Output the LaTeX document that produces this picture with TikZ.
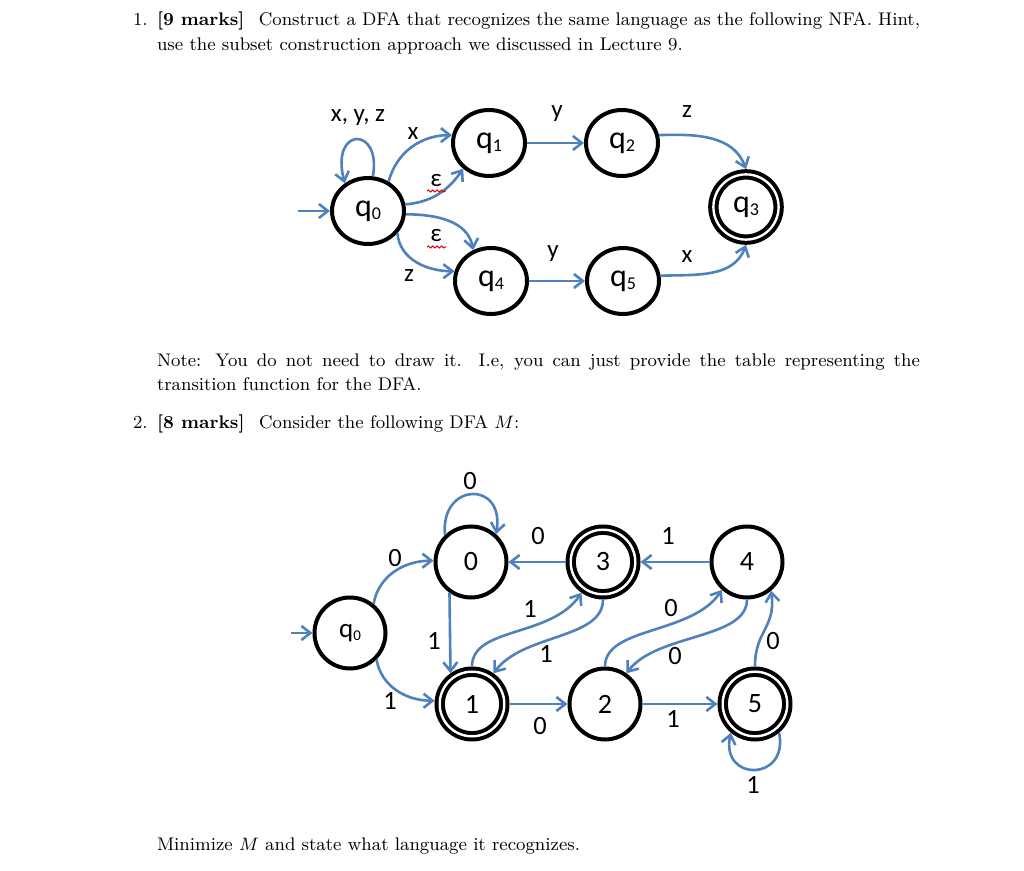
\documentclass[tikz,border=0pt]{standalone}
\usepackage{fontspec}
\newfontfamily\dia{Carlito}
\usetikzlibrary{arrows.meta,shapes.geometric,decorations.pathmorphing}
\definecolor{eblue}{RGB}{79,129,189}
\newcommand\qsub[3]{q\raisebox{-#3}{\fontsize{#2}{#2}\selectfont #1}}
\begin{document}
\begin{tikzpicture}[x=0.5pt,y=-0.5pt,
 txt/.style={anchor=base west,inner sep=0pt,outer sep=0pt,font=\fontsize{9.15pt}{12pt}\selectfont},
 nst/.style={ellipse,draw=black,line width=2pt,minimum width=36pt,minimum height=33pt,inner sep=0pt,outer sep=1pt,font=\dia\fontsize{16pt}{16pt}\selectfont},
 nacc/.style={circle,draw=black,line width=2pt,double=white,double distance=1.2pt,minimum size=32.6pt,inner sep=0pt,outer sep=2.6pt,font=\dia\fontsize{16pt}{16pt}\selectfont},
 dst/.style={circle,draw=black,line width=2pt,minimum size=35.5pt,inner sep=0pt,outer sep=1pt,font=\dia\fontsize{14pt}{14pt}\selectfont},
 dacc/.style={dst,double=white,double distance=1.2pt,minimum size=32.3pt,outer sep=2.6pt},
 arr/.style={draw=eblue,line width=1.3pt,-{Straight Barb[length=4.5pt,width=7pt]}},
 nlab/.style={anchor=base,inner sep=0pt,font=\dia\fontsize{12.5pt}{12.5pt}\selectfont},
 dlab/.style={anchor=base,inner sep=0pt,font=\dia\fontsize{13.2pt}{13.2pt}\selectfont},
 squig/.style={draw=red!85!black,line width=0.5pt,decorate,decoration={snake,amplitude=0.5pt,segment length=2.2pt}},
]
\useasboundingbox[fill=white] (0,0) rectangle (1024,871);

% ---------- text ----------
\node[txt] (t1a) at (133,25.5) {1.};
\node[txt] (t1b) at (157,25.5) {\makebox[381.5pt][s]{\textbf{[9 marks]}\hspace{0.45em} Construct a DFA that recognizes the same language as the following NFA. Hint,}};
\node[txt] (t1c) at (157,50.5) {use the subset construction approach we discussed in Lecture 9.};
\node[txt] (n1) at (157,367) {\makebox[381.5pt][s]{Note: You do not need to draw it. I.e, you can just provide the table representing the}};
\node[txt] (n2) at (157,391) {transition function for the DFA.};
\node[txt] (t2a) at (133,429) {2.};
\node[txt] (t2b) at (157,429) {\textbf{[8 marks]}\hspace{0.45em} Consider the following DFA $M$:};
\node[txt] (t3) at (157,850) {Minimize $M$ and state what language it recognizes.};

% ---------- NFA ----------
\node[nst] (q0) at (368,211) {\qsub{0}{9pt}{1.8pt}};
\node[nst] (q1) at (489,143) {\qsub{1}{9pt}{1.8pt}};
\node[nst] (q2) at (622,143) {\qsub{2}{9pt}{1.8pt}};
\node[nacc] (q3) at (746,207) {\qsub{3}{9pt}{1.8pt}};
\node[nst] (q4) at (491,281) {\qsub{4}{9pt}{1.8pt}};
\node[nst] (q5) at (623,281) {\qsub{5}{9pt}{1.8pt}};

\coordinate (sn) at (298,211);
\draw[arr] (sn) -- (q0.west);
\draw[arr] (q0.82) .. controls (382,126) and (330,126) .. (q0.130);
\draw[arr] (q0.55) to[out=75,in=180] (q1.168);
\draw[arr] (q0.10) to[out=5,in=235] (q1.225);
\draw[arr] (q0.-5) to[out=0,in=100] (q4.120);
\draw[arr] (q0.-37) to[out=-85,in=180] (q4.165);
\draw[arr] (q1.east) -- (q2.west);
\draw[arr] (q2.12) to[out=2,in=110] (q3.north);
\draw[arr] (q4.east) -- (q5.west);
\draw[arr] (q5.8) to[out=2,in=-110] (q3.south);

\node[nlab] (lxyz) at (358,122) {x, y, z};
\node[nlab] (lx1) at (413,140) {x};
\node[nlab] (le1) at (436,187) {ε};
\node[nlab] (le2) at (436,242) {ε};
\node[nlab] (lz1) at (409,282) {z};
\node[nlab] (ly1) at (557,118) {y};
\node[nlab] (lz2) at (687,118) {z};
\node[nlab] (ly2) at (553,258) {y};
\node[nlab] (lx2) at (687,263) {x};
\draw[squig] (427,191) -- (446,191);
\draw[squig] (427,247) -- (446,247);

% ---------- DFA ----------
\node[dst,font=\dia\fontsize{13.5pt}{13.5pt}\selectfont] (Q0) at (350,633) {\qsub{0}{7.5pt}{1.4pt}};
\node[dst] (S0) at (471,562) {0};
\node[dacc] (S3) at (603,562) {3};
\node[dst] (S4) at (747,562) {4};
\node[dacc] (S1) at (472,704) {1};
\node[dst] (S2) at (605,704) {2};
\node[dacc] (S5) at (755,704) {5};

\coordinate (sd) at (291,633);
\draw[arr] (sd) -- (Q0.west);
\draw[arr] (Q0.51) to[out=80,in=180] (S0.178);
\draw[arr] (Q0.-45) to[out=-80,in=180] (S1.175);
\draw[arr] (S0.134) .. controls (440,482) and (505,480) .. (S0.48);
\draw[arr] (S0.235) -- (S1.125);
\draw[arr] (S3.west) -- (S0.east);
\draw[arr] (S4.west) -- (S3.east);
\draw[arr] (S1.90) .. controls +(0,-40) and +(-30,45) .. (S3.235);
\draw[arr] (S3.270) .. controls +(0,40) and +(30,-40) .. (S1.55);
\draw[arr] (S2.90) .. controls +(0,-40) and +(-30,45) .. (S4.228);
\draw[arr] (S4.270) .. controls +(0,40) and +(30,-40) .. (S2.55);
\draw[arr] (S1.east) -- (S2.west);
\draw[arr] (S2.east) -- (S5.west);
\draw[arr] (S5.90) .. controls (755,630) and (776,628) .. (S4.-50);
\draw[arr] (S5.-50) .. controls (789,782) and (720,782) .. (S5.230);

\node[dlab] (d1) at (470,490) {0};
\node[dlab] (d2) at (395,567) {0};
\node[dlab] (d3) at (538,545) {0};
\node[dlab] (d4) at (668,545) {1};
\node[dlab] (d5) at (530,618) {1};
\node[dlab] (d6) at (434,650) {1};
\node[dlab] (d7) at (546,663) {1};
\node[dlab] (d8) at (671,617) {0};
\node[dlab] (d9) at (675,665) {0};
\node[dlab] (d10) at (773,650) {0};
\node[dlab] (d11) at (390,710) {1};
\node[dlab] (d12) at (540,735) {0};
\node[dlab] (d13) at (673,728) {1};
\node[dlab] (d14) at (753,793) {1};
\end{tikzpicture}
\end{document}
